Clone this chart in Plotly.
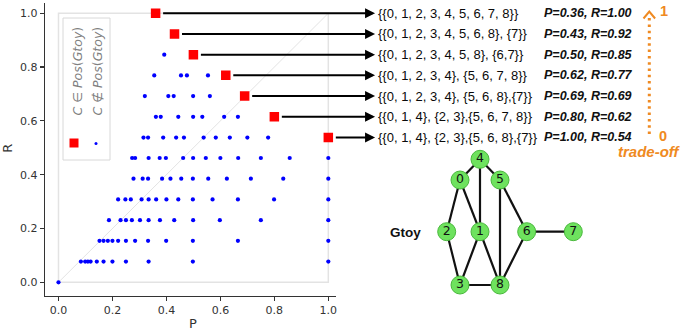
import plotly.graph_objects as go

W, H = 685, 333

# ---------------- data ----------------
row_R = [0.846, 0.769, 0.692, 0.615, 0.538, 0.462, 0.385, 0.308, 0.231, 0.154, 0.077, 0.0]
row_P = [
    [0.392],
    [0.355, 0.454, 0.476, 0.554],
    [0.320, 0.407, 0.427, 0.499, 0.561],
    [0.361, 0.379, 0.444, 0.499, 0.533, 0.614, 0.665],
    [0.315, 0.332, 0.388, 0.436, 0.465, 0.538, 0.583, 0.635, 0.700, 0.777],
    [0.273, 0.284, 0.334, 0.375, 0.398, 0.462, 0.499, 0.546, 0.600, 0.666, 0.750, 0.857, 1.0],
    [0.278, 0.312, 0.332, 0.384, 0.415, 0.455, 0.498, 0.555, 0.624, 0.713, 0.833, 1.0],
    [0.221, 0.248, 0.268, 0.308, 0.334, 0.362, 0.400, 0.444, 0.498, 0.571, 0.665, 0.799, 1.0],
    [0.187, 0.230, 0.250, 0.272, 0.302, 0.334, 0.376, 0.429, 0.499, 0.598, 0.750, 1.0],
    [0.152, 0.167, 0.183, 0.200, 0.221, 0.250, 0.284, 0.332, 0.399, 0.498, 0.665, 1.0],
    [0.083, 0.099, 0.109, 0.119, 0.142, 0.167, 0.200, 0.250, 0.334, 0.498, 1.0],
    [0.0],
]

pareto_P = [0.36, 0.43, 0.50, 0.62, 0.69, 0.80, 1.00]
pareto_R = [1.00, 0.9231, 0.8462, 0.7692, 0.6923, 0.6154, 0.5385]
partitions = [
    "{{0, 1, 2, 3, 4, 5, 6, 7, 8}}",
    "{{0, 1, 2, 3, 4, 5, 6, 8}, {7}}",
    "{{0, 1, 2, 3, 4, 5, 8}, {6,7}}",
    "{{0, 1, 2, 3, 4}, {5, 6, 7, 8}}",
    "{{0, 1, 2, 3, 4}, {5, 6, 8},{7}}",
    "{{0, 1, 4}, {2, 3},{5, 6, 7, 8}}",
    "{{0, 1, 4}, {2, 3},{5, 6, 8},{7}}",
]
tick_vals = [0.0, 0.2, 0.4, 0.6, 0.8, 1.0]
tick_text = ["0.0", "0.2", "0.4", "0.6", "0.8", "1.0"]

# graph Gtoy (layout positions in pixel space)
node_ids = ["4", "0", "5", "2", "1", "6", "7", "3", "8"]
node_x = [480, 460, 500, 446.7, 480, 526.7, 573.3, 460, 500]
node_y = [159.3, 180, 180, 231.7, 231.7, 231.7, 231.7, 285, 285]
edges = [("4", "0"), ("4", "5"), ("4", "1"), ("0", "2"), ("0", "1"), ("5", "8"),
         ("5", "6"), ("2", "3"), ("1", "3"), ("1", "8"), ("3", "8"), ("6", "8"), ("6", "7")]

# ---------------- figure ----------------
blue_P, blue_R = [], []
for r, ps in zip(row_R, row_P):
    for p in ps:
        blue_P.append(p)
        blue_R.append(r)

fig = go.Figure()
fig.add_trace(go.Scatter(x=blue_P, y=blue_R, mode="markers",
                         marker=dict(color="#0000ff", size=4.2, line=dict(width=0)),
                         xaxis="x", yaxis="y", hoverinfo="skip"))
fig.add_trace(go.Scatter(x=pareto_P, y=pareto_R, mode="markers",
                         marker=dict(color="#ff0000", size=9.5, symbol="square", line=dict(width=0)),
                         xaxis="x", yaxis="y", hoverinfo="skip"))

pos = {n: (x, y) for n, x, y in zip(node_ids, node_x, node_y)}
ex, ey = [], []
for a, b in edges:
    ex += [pos[a][0], pos[b][0], None]
    ey += [pos[a][1], pos[b][1], None]
fig.add_trace(go.Scatter(x=ex, y=ey, mode="lines", line=dict(color="#111111", width=2.2),
                         xaxis="x2", yaxis="y2", hoverinfo="skip"))
fig.add_trace(go.Scatter(x=node_x, y=node_y, mode="markers+text", text=node_ids,
                         textposition="middle center",
                         textfont=dict(family="DejaVu Sans", size=12.5, color="#111111"),
                         marker=dict(color="#6ee25e", size=18, line=dict(color="#49b83c", width=1)),
                         xaxis="x2", yaxis="y2", hoverinfo="skip"))

axis_common = dict(showgrid=False, zeroline=False, showline=True, linecolor="#333333",
                   linewidth=1.3, ticks="outside", ticklen=4, tickwidth=1.2, tickcolor="#333333",
                   tickvals=tick_vals, ticktext=tick_text, automargin=False,
                   tickfont=dict(family="DejaVu Sans", size=11, color="#333333"))

fig.update_layout(
    width=W, height=H, margin=dict(l=0, r=0, t=0, b=0),
    paper_bgcolor="white", plot_bgcolor="rgba(0,0,0,0)", showlegend=False,
    template="none",
    xaxis=dict(domain=[45 / W, 336.4 / W], range=[-0.05, 1.03], anchor="y", **axis_common),
    yaxis=dict(domain=[1 - 295.75 / H, 1 - 2.5 / H], range=[-0.05, 1.04], anchor="x", **axis_common),
    xaxis2=dict(domain=[0, 1], range=[0, W], visible=False, anchor="y2"),
    yaxis2=dict(domain=[0, 1], range=[H, 0], visible=False, anchor="x2"),
)

shapes = []
# light frame and diagonal
shapes.append(dict(type="rect", xref="x", yref="y", x0=0, y0=0, x1=1, y1=1,
                   line=dict(color="#e3e3e3", width=1.5), layer="below"))
shapes.append(dict(type="line", xref="x", yref="y", x0=0, y0=0, x1=1, y1=1,
                   line=dict(color="#e3e3e3", width=1), layer="below"))
# legend box
shapes.append(dict(type="rect", xref="x2", yref="y2", x0=63, y0=18, x1=110, y1=160,
                   line=dict(color="#d8d8d8", width=1), fillcolor="rgba(255,255,255,0.85)", layer="above"))
shapes.append(dict(type="rect", xref="x2", yref="y2", x0=69.5, y0=138.5, x1=78.5, y1=147.5,
                   line=dict(width=0), fillcolor="#ff0000"))
shapes.append(dict(type="circle", xref="x2", yref="y2", x0=94.5, y0=142, x1=97.5, y1=145,
                   line=dict(width=0), fillcolor="#0000ff"))
# trade-off indicator
orange = "#ef8a22"
shapes.append(dict(type="line", xref="x2", yref="y2", x0=649.3, y0=134, x1=649.3, y1=17,
                   line=dict(color=orange, width=3, dash="2.5px,3.8px")))
shapes.append(dict(type="path", xref="x2", yref="y2", path="M 643.5,18.5 L 649.3,11.5 L 655.1,18.5",
                   line=dict(color=orange, width=2)))
fig.update_layout(shapes=shapes)

ann = []
# axis titles
ann.append(dict(text="P", xref="x", x=0.5, yref="paper", y=1 - 323 / H, yanchor="middle",
                xanchor="center", showarrow=False,
                font=dict(family="DejaVu Sans", size=13, color="#333333")))
ann.append(dict(text="R", xref="paper", x=8 / W, yref="y", y=0.5, xanchor="center", yanchor="middle",
                showarrow=False, textangle=-90,
                font=dict(family="DejaVu Sans", size=13, color="#333333")))
# legend texts
ann.append(dict(text="<i>C</i> ∈ <i>Pos</i>(<i>Gtoy</i>)", xref="x2", yref="y2", x=77, y=71.5,
                showarrow=False, textangle=-90,
                font=dict(family="DejaVu Sans", size=12.5, color="#808080")))
ann.append(dict(text="<i>C</i> ∉ <i>Pos</i>(<i>Gtoy</i>)", xref="x2", yref="y2", x=97, y=71.5,
                showarrow=False, textangle=-90,
                font=dict(family="DejaVu Sans", size=12.5, color="#808080")))
# arrows + labels
for p, r, lab in zip(pareto_P, pareto_R, partitions):
    ann.append(dict(text="", xref="x", yref="y", x=(375 - 58.7) / 269.6, y=r,
                    axref="x", ayref="y", ax=p, ay=r, showarrow=True,
                    arrowhead=2, arrowsize=1, arrowwidth=2, arrowcolor="#000000",
                    startstandoff=6, standoff=0))
    ann.append(dict(text=lab, xref="paper", x=375.5 / W, yref="y", y=r, xanchor="left",
                    yanchor="middle", showarrow=False,
                    font=dict(family="Liberation Sans", size=13, color="#0a0a0a")))
    ann.append(dict(text=f"<b><i>P={p:.2f}, R={r:.2f}</i></b>", xref="paper", x=542 / W, yref="y", y=r,
                    xanchor="left", yanchor="middle", showarrow=False,
                    font=dict(family="Liberation Sans", size=12.5, color="#111111")))
# trade-off texts
ann.append(dict(text="<b>1</b>", xref="x2", yref="y2", x=664, y=11, showarrow=False,
                font=dict(family="Liberation Sans", size=14.5, color=orange)))
ann.append(dict(text="<b>0</b>", xref="x2", yref="y2", x=663, y=136, showarrow=False,
                font=dict(family="Liberation Sans", size=14.5, color=orange)))
ann.append(dict(text="<b><i>trade-off</i></b>", xref="x2", yref="y2", x=649, y=151, showarrow=False,
                font=dict(family="Liberation Sans", size=15, color=orange)))
# graph name
ann.append(dict(text="<b>Gtoy</b>", xref="x2", yref="y2", x=405, y=232, showarrow=False,
                font=dict(family="Liberation Sans", size=13.5, color="#111111")))
fig.update_layout(annotations=ann)

fig.write_html("out.html", config={"displayModeBar": False, "staticPlot": True},
               post_script="document.body.style.margin='0';document.body.style.overflow='hidden';")
